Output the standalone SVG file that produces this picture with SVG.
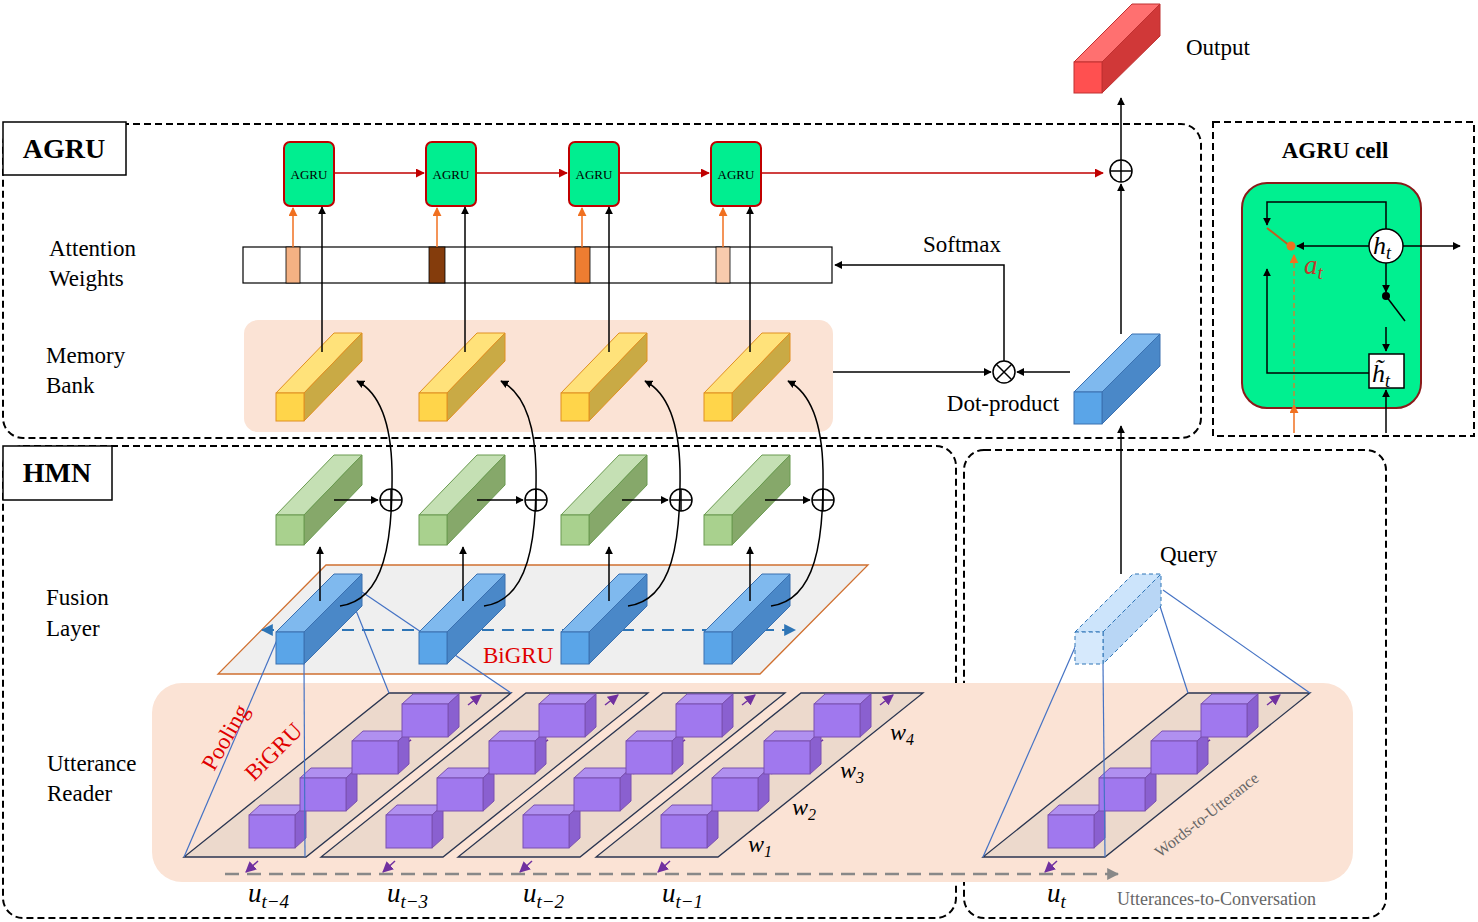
<svg xmlns="http://www.w3.org/2000/svg" xmlns:xlink="http://www.w3.org/1999/xlink" width="1478" height="922" viewBox="0 0 1478 922">
<style>
.t{font-family:"Liberation Serif",serif;fill:#000}
.m{font-family:"Liberation Serif",serif;font-style:italic}
.dash{fill:none;stroke:#000;stroke-width:2;stroke-dasharray:7 4}
.ln{stroke:#000;stroke-width:1.5;fill:none}
.bl{stroke:#4472c4;stroke-width:1.2;fill:none}
.agru{fill:#00ee90;stroke:#c00000;stroke-width:2}
.oc{fill:#fff;stroke:#000;stroke-width:1.5}
</style>
<defs>
<marker id="a" viewBox="0 0 10 10" refX="9" refY="5" markerWidth="8" markerHeight="8" orient="auto-start-reverse" markerUnits="userSpaceOnUse"><path d="M0,0 L10,5 L0,10z" fill="#000"/></marker>
<marker id="ar" viewBox="0 0 10 10" refX="9" refY="5" markerWidth="9" markerHeight="9" orient="auto" markerUnits="userSpaceOnUse"><path d="M0,0 L10,5 L0,10z" fill="#c00000"/></marker>
<marker id="ao" viewBox="0 0 10 10" refX="9" refY="5" markerWidth="9" markerHeight="9" orient="auto" markerUnits="userSpaceOnUse"><path d="M0,0 L10,5 L0,10z" fill="#f07020"/></marker>
<marker id="ab" viewBox="0 0 10 10" refX="9" refY="5" markerWidth="12" markerHeight="12" orient="auto-start-reverse" markerUnits="userSpaceOnUse"><path d="M0,0 L10,5 L0,10z" fill="#2e75b6"/></marker>
<marker id="ag" viewBox="0 0 10 10" refX="9" refY="5" markerWidth="12" markerHeight="12" orient="auto" markerUnits="userSpaceOnUse"><path d="M0,0 L10,5 L0,10z" fill="#888"/></marker>
<marker id="ap" viewBox="0 0 10 10" refX="9" refY="5" markerWidth="11" markerHeight="11" orient="auto" markerUnits="userSpaceOnUse"><path d="M0,0 L10,5 L0,10z" fill="#7030a0"/></marker>
<g id="yb" stroke="#e09020" stroke-width="1"><polygon points="0,0 58,-60 86,-60 28,0" fill="#ffe27a"/><polygon points="28,0 86,-60 86,-32 28,28" fill="#c9aa45"/><rect width="28" height="28" fill="#ffd54a"/></g>
<g id="gb" stroke="#6a9a50" stroke-width="1"><polygon points="0,0 58,-60 86,-60 28,0" fill="#c5e0b4"/><polygon points="28,0 86,-60 86,-30 28,30" fill="#86a86a"/><rect width="28" height="30" fill="#a9d18e"/></g>
<g id="bb" stroke="#3a70b0" stroke-width="1"><polygon points="0,0 58,-58 86,-58 28,0" fill="#7fb9ee"/><polygon points="28,0 86,-58 86,-26 28,32" fill="#4a88c8"/><rect width="28" height="32" fill="#5aa5e8"/></g>
<g id="pc" stroke="#7a50b0" stroke-width="1"><polygon points="0,0 11,-10 57,-10 46,0" fill="#b090f0"/><polygon points="46,0 57,-10 57,23 46,33" fill="#8a60d0"/><rect width="46" height="33" fill="#a078ee"/></g>
<g id="ut"><polygon points="0,164 122,164 327,0 205,0" fill="#ecd9cc" stroke="#2a3550" stroke-width="1.3"/>
<line x1="70" y1="150" x2="280" y2="12" stroke="#7030a0" stroke-width="1.5" stroke-dasharray="8 10"/>
<use href="#pc" x="65" y="122"/><use href="#pc" x="116" y="85"/><use href="#pc" x="168" y="48"/><use href="#pc" x="218" y="11"/>
<line x1="74" y1="168" x2="62" y2="179" stroke="#7030a0" stroke-width="1.5" marker-end="url(#ap)"/>
<line x1="284" y1="12" x2="297" y2="2" stroke="#7030a0" stroke-width="1.5" marker-end="url(#ap)"/></g>
</defs>
<rect width="1478" height="922" fill="#fff"/>
<rect x="3" y="124" width="1198" height="314" rx="20" class="dash"/>
<rect x="3" y="446" width="953" height="472" rx="20" class="dash"/>
<rect x="964" y="450" width="422" height="468" rx="20" class="dash"/>
<rect x="1213" y="122" width="261" height="314" class="dash"/>
<g id="agru-label"><rect x="3" y="122" width="123" height="53" fill="#fff" stroke="#000" stroke-width="1.5"/><text x="64" y="158" class="t" font-size="28" font-weight="bold" text-anchor="middle">AGRU</text></g>
<g id="hmn-label"><rect x="3" y="446" width="109" height="54" fill="#fff" stroke="#000" stroke-width="1.5"/><text x="57" y="482" class="t" font-size="28" font-weight="bold" text-anchor="middle">HMN</text></g>
<text class="t" font-size="23"><tspan x="49" y="256">Attention</tspan><tspan x="49" y="286">Weights</tspan></text>
<text class="t" font-size="23"><tspan x="46" y="363">Memory</tspan><tspan x="46" y="393">Bank</tspan></text>
<text class="t" font-size="23"><tspan x="46" y="605">Fusion</tspan><tspan x="46" y="636">Layer</tspan></text>
<text class="t" font-size="23"><tspan x="47" y="771">Utterance</tspan><tspan x="47" y="801">Reader</tspan></text>
<rect x="152" y="683" width="1201" height="199" rx="30" fill="#fbe3d5"/>
<g id="utt1"><use href="#ut" x="184" y="693"/></g>
<g id="utt2"><use href="#ut" x="321" y="693"/></g>
<g id="utt3"><use href="#ut" x="458" y="693"/></g>
<g id="utt4"><use href="#ut" x="596" y="693"/></g>
<g id="utt5"><use href="#ut" x="983" y="693"/></g>
<text class="m" font-size="24"><tspan x="890" y="740">w</tspan><tspan font-size="16" dy="5">4</tspan></text>
<text class="m" font-size="24"><tspan x="840" y="778">w</tspan><tspan font-size="16" dy="5">3</tspan></text>
<text class="m" font-size="24"><tspan x="792" y="815">w</tspan><tspan font-size="16" dy="5">2</tspan></text>
<text class="m" font-size="24"><tspan x="748" y="852">w</tspan><tspan font-size="16" dy="5">1</tspan></text>
<text class="t" font-size="16" transform="translate(1160,858) rotate(-38)" style="fill:#666">Words-to-Utterance</text>
<text x="1117" y="905" class="t" font-size="18" style="fill:#666">Utterances-to-Conversation</text>
<line x1="225" y1="874" x2="1118" y2="874" stroke="#888" stroke-width="2.5" stroke-dasharray="14 8" marker-end="url(#ag)"/>
<g class="m" font-size="27"><text x="248" y="902">u<tspan font-size="19" dy="6">t−4</tspan></text><text x="387" y="902">u<tspan font-size="19" dy="6">t−3</tspan></text><text x="523" y="902">u<tspan font-size="19" dy="6">t−2</tspan></text><text x="662" y="902">u<tspan font-size="19" dy="6">t−1</tspan></text><text x="1047" y="902">u<tspan font-size="19" dy="6">t</tspan></text></g>
<polygon points="218,674 760,674 868,565 326,565" fill="#efefef" stroke="#d07030" stroke-width="1.3"/>
<line x1="262" y1="630" x2="795" y2="630" stroke="#2e75b6" stroke-width="1.8" stroke-dasharray="12 8" marker-start="url(#ab)" marker-end="url(#ab)"/>
<g class="bl"><line x1="184" y1="857" x2="277" y2="640"/><line x1="304" y1="664" x2="305" y2="857"/><line x1="355" y1="608" x2="389" y2="693"/><line x1="362" y1="592" x2="511" y2="693"/>
<line x1="983" y1="857" x2="1076" y2="645"/><line x1="1103" y1="664" x2="1105" y2="857"/><line x1="1158" y1="600" x2="1188" y2="693"/><line x1="1163" y1="590" x2="1310" y2="693"/></g>
<g id="fus1"><use href="#bb" x="276" y="632"/></g>
<g id="fus2"><use href="#bb" x="419" y="632"/></g>
<g id="fus3"><use href="#bb" x="561" y="632"/></g>
<g id="fus4"><use href="#bb" x="704" y="632"/></g>
<text x="483" y="663" class="t" font-size="23" style="fill:#e00000">BiGRU</text>
<text class="t" font-size="23" transform="translate(214,772) rotate(-60)" style="fill:#e00000">Pooling</text>
<text class="t" font-size="23" transform="translate(254,782) rotate(-45)" style="fill:#e00000">BiGRU</text>
<g id="query"><polygon points="1075,632 1133,574 1161,574 1103,632" fill="#cce4fb" stroke="#2e75b6" stroke-dasharray="4 3"/><polygon points="1103,632 1161,574 1161,606 1103,664" fill="#b8d6f5" stroke="#2e75b6" stroke-dasharray="4 3"/><rect x="1075" y="632" width="28" height="32" fill="#d6e9fc" stroke="#2e75b6" stroke-dasharray="4 3"/></g>
<text x="1160" y="562" class="t" font-size="23">Query</text>
<g id="g1"><use href="#gb" x="276" y="515"/></g>
<g id="g2"><use href="#gb" x="419" y="515"/></g>
<g id="g3"><use href="#gb" x="561" y="515"/></g>
<g id="g4"><use href="#gb" x="704" y="515"/></g>
<rect x="244" y="320" width="589" height="112" rx="14" fill="#fbe3d5"/>
<g id="m1"><use href="#yb" x="276" y="393"/></g>
<g id="m2"><use href="#yb" x="419" y="393"/></g>
<g id="m3"><use href="#yb" x="561" y="393"/></g>
<g id="m4"><use href="#yb" x="704" y="393"/></g>
<g id="attn"><rect x="243" y="247" width="589" height="36" fill="#fff" stroke="#000" stroke-width="1.2"/>
<rect x="286" y="247" width="14" height="36" fill="#f4b183" stroke="#000" stroke-width="0.8"/>
<rect x="429" y="247" width="16" height="36" fill="#843c0c" stroke="#000" stroke-width="0.8"/>
<rect x="575" y="247" width="15" height="36" fill="#ed7d31" stroke="#000" stroke-width="0.8"/>
<rect x="716" y="247" width="14" height="36" fill="#f8cbad" stroke="#000" stroke-width="0.8"/></g>
<g id="ag1"><rect x="284" y="142" width="50" height="64" rx="6" class="agru"/><text x="309" y="179" class="t" font-size="13" text-anchor="middle">AGRU</text></g>
<g id="ag2"><rect x="426" y="142" width="50" height="64" rx="6" class="agru"/><text x="451" y="179" class="t" font-size="13" text-anchor="middle">AGRU</text></g>
<g id="ag3"><rect x="569" y="142" width="50" height="64" rx="6" class="agru"/><text x="594" y="179" class="t" font-size="13" text-anchor="middle">AGRU</text></g>
<g id="ag4"><rect x="711" y="142" width="50" height="64" rx="6" class="agru"/><text x="736" y="179" class="t" font-size="13" text-anchor="middle">AGRU</text></g>
<g id="keybar"><use href="#bb" x="1074" y="392"/></g>
<g id="output" stroke="#c03030" stroke-width="1"><polygon points="1074,62 1132,4 1160,4 1102,62" fill="#ff7070"/><polygon points="1102,62 1160,4 1160,36 1102,93" fill="#d03838"/><rect x="1074" y="62" width="28" height="31" fill="#ff5050"/></g>
<text x="1186" y="55" class="t" font-size="23">Output</text>
<text x="962" y="252" class="t" font-size="23" text-anchor="middle">Softmax</text>
<text x="1003" y="411" class="t" font-size="23" text-anchor="middle">Dot-product</text>
<g id="plus1"><circle cx="391" cy="500" r="11" class="oc"/><path d="M380,500h22M391,489v22" class="ln"/></g>
<g id="plus2"><circle cx="536" cy="500" r="11" class="oc"/><path d="M525,500h22M536,489v22" class="ln"/></g>
<g id="plus3"><circle cx="681" cy="500" r="11" class="oc"/><path d="M670,500h22M681,489v22" class="ln"/></g>
<g id="plus4"><circle cx="823" cy="500" r="11" class="oc"/><path d="M812,500h22M823,489v22" class="ln"/></g>
<g id="plusout"><circle cx="1121" cy="171" r="11" class="oc"/><path d="M1110,171h22M1121,160v22" class="ln"/></g>
<g id="times"><circle cx="1004" cy="372" r="11" class="oc"/><path d="M996,364l16,16M1012,364l-16,16" class="ln"/></g>
<g id="connectors">
<g class="ln" marker-end="url(#a)">
<path d="M334,500H378"/><path d="M477,500H523"/><path d="M622,500H668"/><path d="M765,500H810"/>
<path d="M320,601V547"/><path d="M463,601V547"/><path d="M609,601V547"/><path d="M750,601V547"/>
<path d="M322,352V207"/><path d="M465,352V207"/><path d="M609,352V207"/><path d="M750,352V207"/>
<path d="M340,606C385,600 393,540 392,470C391,420 378,392 357,381"/>
<path d="M484,606C529,600 537,540 536,470C535,420 522,392 501,381"/>
<path d="M628,606C673,600 681,540 680,470C679,420 666,392 645,381"/>
<path d="M771,606C816,600 824,540 823,470C822,420 809,392 788,381"/>
<path d="M833,372H991"/>
<path d="M1070,372H1017"/>
<path d="M1004,361V265H835"/>
<path d="M1121,574V426"/>
<path d="M1121,334V184"/>
<path d="M1121,160V98"/>
</g>
<g stroke="#c00000" stroke-width="1.5" fill="none" marker-end="url(#ar)">
<path d="M334,173H424"/><path d="M476,173H567"/><path d="M619,173H709"/><path d="M761,173H1103"/></g>
<g stroke="#f07020" stroke-width="1.5" marker-end="url(#ao)">
<path d="M293,247V208"/><path d="M437,247V208"/><path d="M582,247V208"/><path d="M723,247V208"/></g>
</g>
<g id="agru-cell">
<text x="1335" y="158" class="t" font-size="23" font-weight="bold" text-anchor="middle">AGRU cell</text>
<rect x="1242" y="183" width="179" height="225" rx="25" fill="#00f090" stroke="#8b1a1a" stroke-width="2"/>
<g class="ln" marker-end="url(#a)">
<path d="M1386,229V202H1267V225"/>
<path d="M1369,246H1297"/>
<path d="M1403,246H1460"/>
<path d="M1386,263V292"/>
<path d="M1386,327V351"/>
<path d="M1369,373H1267V269"/>
<path d="M1386,433V390"/>
</g>
<path d="M1386,296L1405,321" class="ln"/>
<circle cx="1386" cy="296" r="4" fill="#000"/>
<path d="M1267,228L1290,246" stroke="#c06020" stroke-width="2"/>
<circle cx="1291" cy="246" r="4.5" fill="#f07020"/>
<path d="M1294,433V405" stroke="#f07020" stroke-width="1.5" marker-end="url(#ao)"/>
<path d="M1294,404V255" stroke="#f07020" stroke-width="1.2" stroke-dasharray="5 3" marker-end="url(#ao)"/>
<circle cx="1386" cy="246" r="17" fill="#fff" stroke="#000" stroke-width="1.5"/>
<text x="1373" y="254" class="m" font-size="26">h<tspan font-size="18" dy="5">t</tspan></text>
<rect x="1369" y="354" width="35" height="34" fill="#fff" stroke="#000" stroke-width="1.5"/>
<text x="1372" y="382" class="m" font-size="26">h̃<tspan font-size="18" dy="5">t</tspan></text>
<text x="1304" y="274" class="m" font-size="27" fill="#c0392b">a<tspan font-size="19" dy="5">t</tspan></text>
</g>
</svg>
